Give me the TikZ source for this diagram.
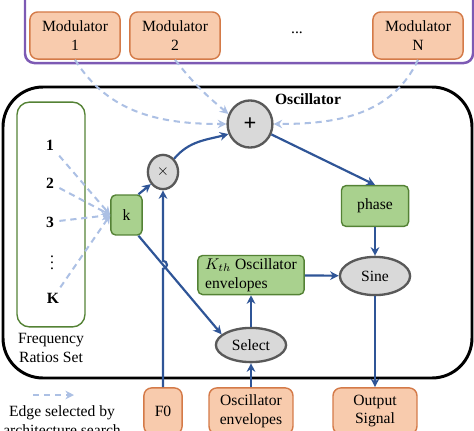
\documentclass[tikz,border=0pt]{standalone}
\usepackage{fontspec}
\setmainfont{Liberation Serif}
\usepackage{amsmath}
\usetikzlibrary{shapes,arrows.meta,positioning,calc}

\definecolor{flowblue}{RGB}{47,85,151}
\definecolor{pickblue}{RGB}{172,192,228}
\definecolor{gfill}{RGB}{169,209,142}
\definecolor{gline}{RGB}{84,130,53}
\definecolor{ofill}{RGB}{248,203,173}
\definecolor{oline}{RGB}{212,122,72}
\definecolor{opfill}{RGB}{217,217,217}
\definecolor{opline}{RGB}{89,89,89}
\definecolor{modline}{RGB}{125,90,180}

\tikzset{
    obox/.style={rectangle, rounded corners=5pt, draw=oline, fill=ofill, line width=0.9pt, align=center, inner sep=1pt},
    gbox/.style={rectangle, rounded corners=3pt, draw=gline, fill=gfill, line width=0.9pt, align=center, inner sep=1pt},
    opnode/.style={ellipse, draw=opline, fill=opfill, line width=1.5pt, inner sep=0pt},
    flow/.style={draw=flowblue, line width=1.4pt, -{Stealth[length=5.5pt,width=5.5pt]}},
    pick/.style={draw=pickblue, line width=1.3pt, dash pattern=on 4pt off 3pt, -{Stealth[length=5.5pt,width=5.5pt]}}
}

\begin{document}
\begin{tikzpicture}[x=0.0225cm,y=0.0225cm]
    \useasboundingbox (0,0) rectangle (474,-430);
    % modulators
    \draw [modline, line width=1.6pt, rounded corners=6pt] (25,10) rectangle (473,-63);
    \node (m1) [obox, minimum width=2.03cm, minimum height=1.06cm] at (75,-35.5) {Modulator\\1};
    \node (m2) [obox, minimum width=2.03cm, minimum height=1.06cm] at (175,-35.5) {Modulator\\2};
    \node (mdots) [] at (297,-33) {...};
    \node (mN) [obox, minimum width=2.03cm, minimum height=1.06cm] at (418,-35.5) {Modulator\\N};

    % oscillator
    \draw [line width=1.9pt, rounded corners=0.9cm] (3,-87) rectangle (472,-378);
    \node (osclabel) [font=\bfseries] at (308,-99) {Oscillator};

    \node (freq) [draw=gline, line width=0.9pt, rounded corners=8pt, minimum width=1.53cm, minimum height=5.06cm] at (51,-214.5) {};
    \node (r1) [font=\bfseries] at (50,-145) {1};
    \node (r2) [font=\bfseries] at (50,-183) {2};
    \node (r3) [font=\bfseries] at (50,-222) {3};
    \node (rdots) [] at (52,-258) {$\vdots$};
    \node (rK) [font=\bfseries] at (53,-298) {K};
    \node (freqlabel) [below=0pt of freq, align=center] {Frequency\\Ratios Set};

    \node (k) [gbox, minimum width=0.70cm, minimum height=0.90cm] at (126.5,-215) {k};
    \node (mul) [opnode, minimum width=0.68cm, minimum height=0.77cm] at (163,-172) {$\times$};
    \node (plus) [opnode, minimum width=1.01cm, minimum height=1.06cm, font=\Large\bfseries] at (250,-124) {+};
    \node (phase) [gbox, minimum width=1.51cm, minimum height=0.92cm] at (375,-206) {phase};
    \node (kth) [gbox, align=left, minimum width=2.39cm, minimum height=0.88cm] at (251,-275) {$K_{th}$ Oscillator\\envelopes};
    \node (sine) [opnode, minimum width=1.58cm, minimum height=0.86cm] at (375,-276) {Sine};
    \node (sel) [opnode, minimum width=1.58cm, minimum height=0.77cm] at (251,-345) {Select};

    % inputs and output
    \node (f0) [obox, minimum width=0.86cm, minimum height=1.04cm] at (163,-411) {F0};
    \node (env) [obox, minimum width=1.89cm, minimum height=1.04cm] at (251,-411) {Oscillator\\envelopes};
    \node (out) [obox, minimum width=1.89cm, minimum height=1.04cm] at (375,-411) {Output\\Signal};

    % legend
    \coordinate (legA) at (33,-395);
    \coordinate (legB) at (74,-395);
    \draw [pick] (legA) -- (legB);
    \node (legtext) [align=center] at (62,-421) {Edge selected by\\architecture search};

    % searched edges
    \foreach \ratio in {r1,r2,r3,rK}
        \draw [pick] (\ratio) -- (k.west);
    \draw [pick] (m1.south) to [out=-58,in=180] (plus.west);
    \draw [pick] (m2.south) to [out=-52,in=140] (plus.155);
    \draw [pick] (mN.south) to [out=-115,in=0] (plus.east);

    % signal flow
    \draw [flow] (k.60) -- (mul.225);
    \draw [flow] (mul.50) to [out=50,in=195] (plus.205);
    \draw [flow] (plus) -- (phase.north);
    \draw [flow] (phase) -- (sine);
    \draw [flow] (kth) -- (sine);
    \draw [flow] (sel) -- (kth);
    \draw [flow] (env) -- (sel);
    \draw [flow] (sine) -- (out);
    \draw [flow] (k.300) -- (sel.160);
    \coordinate (hop) at (intersection of f0.north--mul.south and k.300--sel.160);
    \draw [flow] (f0.north) -- ($(hop)+(0,-4)$) arc [start angle=-90, end angle=90, radius=4] -- (mul.south);
\end{tikzpicture}
\end{document}
